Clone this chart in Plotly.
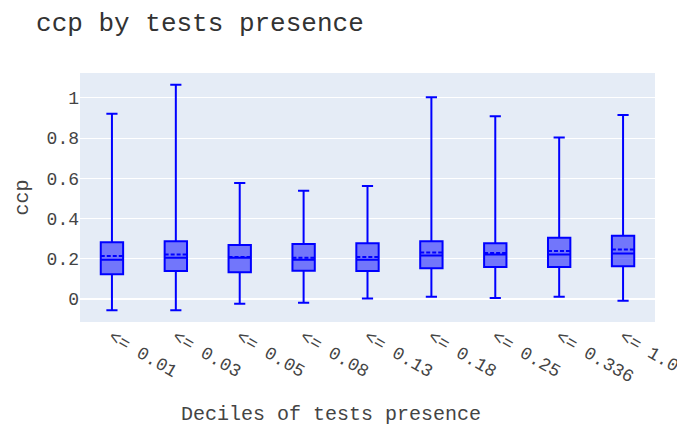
import plotly.graph_objects as go

categories = ["<= 0.01", "<= 0.03", "<= 0.05", "<= 0.08", "<= 0.13",
              "<= 0.18", "<= 0.25", "<= 0.336", "<= 1.0"]
lowerfence = [-0.055, -0.055, -0.023, -0.018, 0.003, 0.012, 0.005, 0.012, -0.008]
q1 = [0.124, 0.139, 0.133, 0.141, 0.139, 0.153, 0.159, 0.159, 0.163]
median = [0.196, 0.206, 0.206, 0.196, 0.196, 0.217, 0.221, 0.222, 0.226]
mean = [0.214, 0.222, 0.209, 0.206, 0.209, 0.231, 0.229, 0.239, 0.247]
q3 = [0.282, 0.287, 0.269, 0.274, 0.277, 0.287, 0.277, 0.305, 0.315]
upperfence = [0.922, 1.065, 0.577, 0.539, 0.562, 1.003, 0.909, 0.803, 0.915]

FONT = "Courier New, Liberation Mono, monospace"

fig = go.Figure(go.Box(
    x=categories, q1=q1, median=median, q3=q3,
    lowerfence=lowerfence, upperfence=upperfence, mean=mean,
    boxmean=True, boxpoints=False,
    line=dict(color="#0000ff", width=2),
    fillcolor="rgba(0,0,255,0.5)",
    showlegend=False,
))

fig.update_layout(
    width=685, height=431,
    margin=dict(l=72, r=38, t=65, b=117),
    font=dict(family=FONT, size=18, color="#444"),
    title=dict(text="ccp by tests presence", x=0.041, xanchor="left",
               y=1 - 14 / 431, yref="container", yanchor="middle",
               font=dict(family=FONT, size=26, color="#333")),
    boxgap=0.5,
    plot_bgcolor="#E5ECF6",
    paper_bgcolor="white",
    xaxis=dict(tickangle=30, showgrid=False, automargin=False),
    yaxis=dict(range=[-0.114, 1.124], gridcolor="white", zeroline=True,
               zerolinecolor="white", zerolinewidth=2, dtick=0.2,
               automargin=False),
    annotations=[
        dict(text="Deciles of tests presence", xref="paper", yref="paper",
             x=0.4365, y=0, xanchor="center", yanchor="middle", yshift=-92,
             showarrow=False, font=dict(family=FONT, size=20, color="#444")),
        dict(text="ccp", xref="paper", yref="paper", x=0, y=0.5,
             xanchor="center", yanchor="middle", xshift=-58, textangle=-90,
             showarrow=False, font=dict(family=FONT, size=20, color="#444")),
    ],
)

fig.write_html("out.html")
